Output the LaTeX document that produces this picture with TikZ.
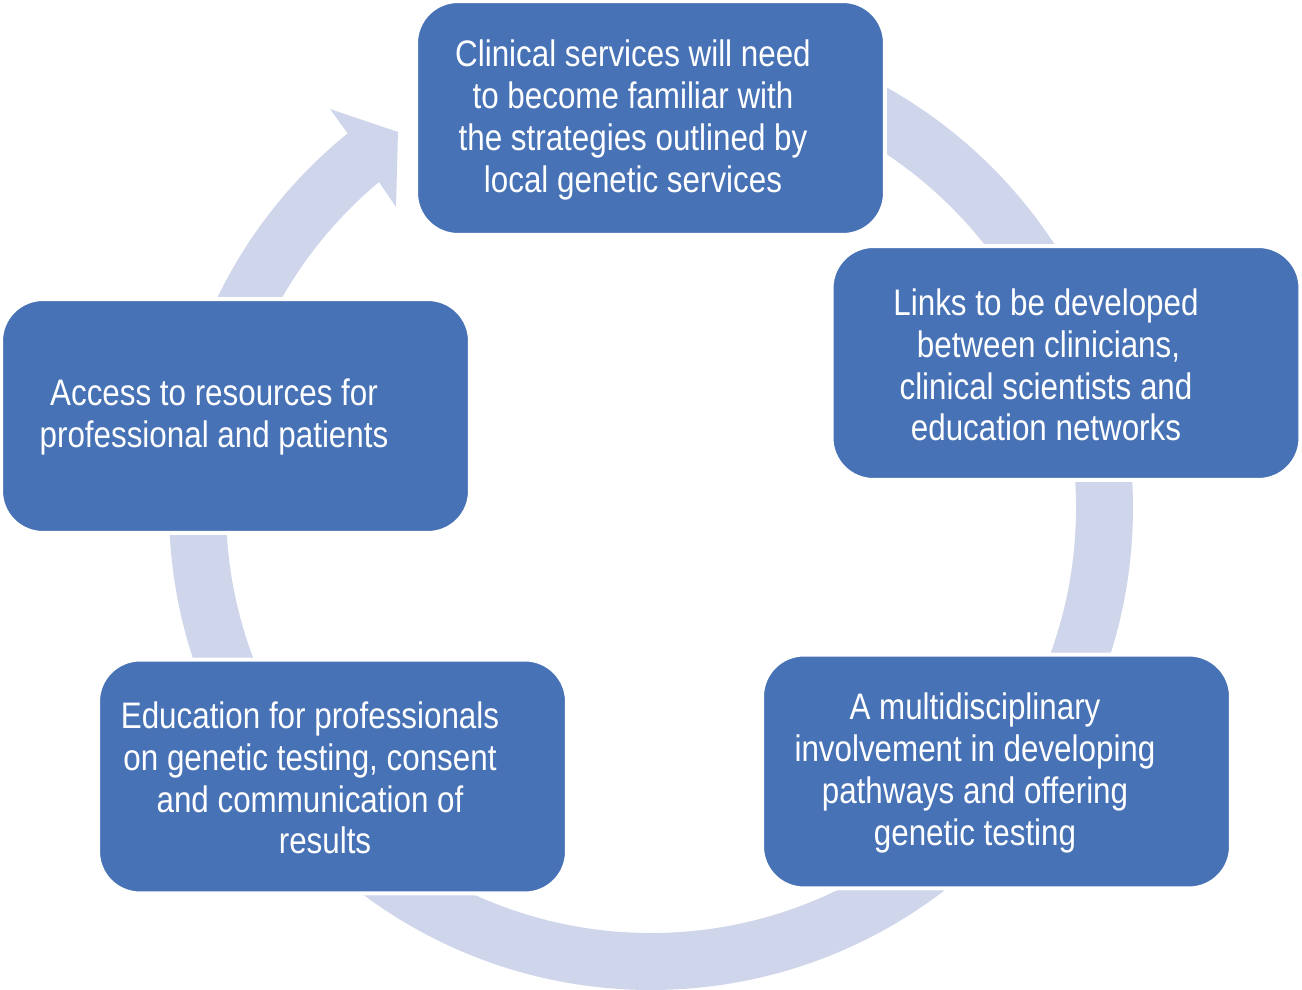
\documentclass[tikz,border=0pt]{standalone}
\usepackage{fontspec}
\setmainfont{Liberation Sans}[FakeStretch=0.85]
\definecolor{boxblue}{RGB}{71,114,182}
\definecolor{ringcol}{RGB}{207,213,234}
\newcommand\cyclefont{\fontsize{21}{23.8}\selectfont}
\tikzset{
  cyclebox/.style={rectangle, rounded corners=0.84cm, fill=boxblue, draw=white,
    line width=0.08cm, minimum width=9.38cm, minimum height=4.68cm, inner sep=0pt},
  cycletext/.style={text=white, align=center, font=\cyclefont, inner sep=0pt}
}
\begin{document}
\begin{tikzpicture}[x=0.02cm,y=-0.02cm]
\useasboundingbox (0,0) rectangle (1302,990);
% ring
\begin{scope}[shift={(651,508)}]
  \draw[ringcol, line width=1.14cm] (-90:453.5) arc[start angle=-90, end angle=180, radius=453.5];
  \fill[ringcol] (180:482) arc[start angle=180, end angle=231, radius=482]
    -- (-321,-399) -- (-253,-376) -- (-255,-301) -- (-272,-326)
    arc[start angle=230.2, end angle=180, radius=425] -- cycle;
\end{scope}
% boxes
\node[cyclebox] (top) at (650.5,118) {};
\node[cyclebox] (right) at (1066,363) {};
\node[cyclebox] (bright) at (996.5,771.5) {};
\node[cyclebox] (bleft) at (332.5,776.5) {};
\node[cyclebox] (left) at (235.5,416) {};
% texts
\node[cycletext] (ttop) at (633,120) {Clinical services will need\\to become familiar with\\the strategies outlined by\\local genetic services};
\node[cycletext] (tright) at (1046,365) {Links to be developed\\\hspace*{0.1cm}between clinicians,\\clinical scientists and\\education networks};
\node[cycletext] (tbright) at (975,773) {A multidisciplinary\\involvement in developing\\pathways and offering\\genetic testing};
\node[cycletext] (tbleft) at (310,778) {Education for professionals\\on genetic testing, consent\\and communication of\\\hspace*{0.6cm}results};
\node[cycletext] (tleft) at (214,417) {Access to resources for\\professional and patients};
\end{tikzpicture}
\end{document}
